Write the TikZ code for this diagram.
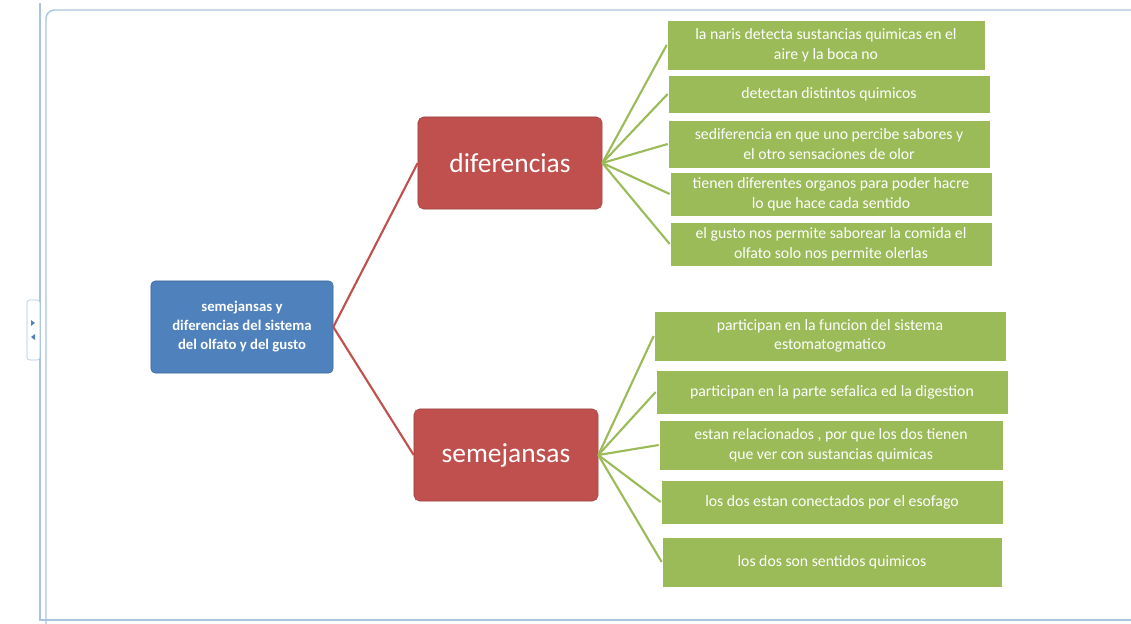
\documentclass[tikz,border=0pt]{standalone}
\usepackage{fontspec}
\setmainfont{Carlito}
\usetikzlibrary{positioning, calc}
\definecolor{rootblue}{HTML}{4F81BD}
\definecolor{catred}{HTML}{C0504D}
\definecolor{leafgreen}{HTML}{9BBB59}
\definecolor{framebl}{HTML}{A9C4E0}

\begin{document}
\begin{tikzpicture}[x=0.025cm, y=-0.025cm,
    root/.style={draw=rootblue!80!black, fill=rootblue, rounded corners=3pt, minimum width=4.55cm, minimum height=2.3cm, align=center, text=white, font=\fontsize{10.5}{13.5}\selectfont\bfseries},
    cat/.style={draw=catred!80!black, fill=catred, rounded corners=4pt, minimum width=4.6cm, minimum height=2.3cm, align=center, text=white, font=\fontsize{19.5}{23}\selectfont},
    leaf/.style={fill=leafgreen, draw=white, minimum height=1.15cm, align=center, text=white, font=\fontsize{11.2}{14}\selectfont},
    redline/.style={catred, line width=1.5pt},
    greenline/.style={leafgreen, line width=1.5pt}
]
\useasboundingbox (0,0) rectangle (1131,624);

% Frame
\fill[white] (0,0) rectangle (1131,624);
\draw[framebl, line width=1pt] (40,3) -- (40,620) -- (1131,620);
\draw[framebl, line width=1pt, rounded corners=6pt] (46,624) -- (46,10) -- (1131,10);
\draw[framebl, fill=white, rounded corners=2pt] (27,300) rectangle (40,360);
\fill[rootblue] (31,320) -- (35,323) -- (31,326) -- cycle;
\fill[rootblue] (35,334) -- (31,337) -- (35,340) -- cycle;

% Nodes
\node[root] (root) at (242,327) {semejansas y\\diferencias del sistema\\del olfato y del gusto};
\node[cat] (dif) at (510,163) {diferencias};
\node[cat] (sem) at (506,455) {semejansas};

\node[leaf, minimum width=7.95cm, minimum height=1.25cm] (d1) at (826,45) {la naris detecta sustancias quimicas en el\\aire y la boca no};
\node[leaf, minimum width=8.05cm, minimum height=0.95cm] (d2) at (829,94) {detectan distintos quimicos};
\node[leaf, minimum width=8.05cm, minimum height=1.2cm] (d3) at (829,144) {sediferencia en que uno percibe sabores y\\el otro sensaciones de olor};
\node[leaf, minimum width=8.05cm, minimum height=1.1cm] (d4) at (831,194) {tienen diferentes organos para poder hacre\\lo que hace cada sentido};
\node[leaf, minimum width=8.05cm, minimum height=1.1cm] (d5) at (831,244) {el gusto nos permite saborear la comida el\\olfato solo nos permite olerlas};

\node[leaf, minimum width=8.8cm, minimum height=1.25cm] (s1) at (830,336) {participan en la funcion del sistema\\estomatogmatico};
\node[leaf, minimum width=8.8cm, minimum height=1.1cm] (s2) at (832,392) {participan en la parte sefalica ed la digestion};
\node[leaf, minimum width=8.6cm, minimum height=1.25cm] (s3) at (831,445) {estan relacionados , por que los dos tienen\\que ver con sustancias quimicas};
\node[leaf, minimum width=8.55cm, minimum height=1.1cm] (s4) at (832,502) {los dos estan conectados por el esofago};
\node[leaf, minimum width=8.5cm, minimum height=1.25cm] (s5) at (832,562) {los dos son sentidos quimicos};

% Connections
\draw[redline] (root.east) -- (dif.west);
\draw[redline] (root.east) -- (sem.west);
\foreach \n in {d1,d2,d3,d4,d5} \draw[greenline] (dif.east) -- (\n.west);
\foreach \n in {s1,s2,s3,s4,s5} \draw[greenline] (sem.east) -- (\n.west);

\end{tikzpicture}
\end{document}
